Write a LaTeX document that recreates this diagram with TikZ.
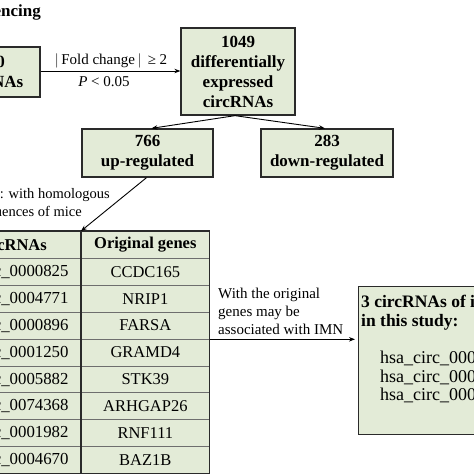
\documentclass[tikz,border=0pt]{standalone}
\usepackage{fontspec}
\setmainfont{Liberation Serif}
\usetikzlibrary{arrows.meta,calc}
\definecolor{boxfill}{HTML}{E3EBD7}
\definecolor{boxline}{HTML}{2A2A2A}
\definecolor{gridline}{HTML}{6E6E6E}
\begin{document}
\begin{tikzpicture}[x=1pt,y=-1pt,
  box/.style={draw=boxline, line width=1.3pt, fill=boxfill, inner sep=0pt, align=center,
    font=\bfseries\fontsize{17}{20}\selectfont},
  arr/.style={-{Stealth[length=6pt,width=4.5pt]}, line width=0.9pt, draw=black},
  lbl/.style={inner sep=0pt, font=\fontsize{15}{18}\selectfont},
  cell/.style={draw=gridline, line width=0.7pt, fill=boxfill, anchor=north west,
    minimum height=26.9pt, inner sep=0pt, font=\fontsize{16.5}{18}\selectfont},
  cella/.style={cell, minimum width=146pt},
  cellb/.style={cell, minimum width=128pt},
  celltext/.style={inner sep=0pt, anchor=east, font=\fontsize{16.8}{18}\selectfont}]
\useasboundingbox (0,0) rectangle (474,474);
\clip (0,0) rectangle (474,474);
\fill[white] (0,0) rectangle (474,474);

% title
\node[inner sep=0pt, anchor=east, font=\bfseries\fontsize{17}{18}\selectfont] (title) at (41,12) {RNA sequencing};

% left box
\node[box, minimum width=104pt, minimum height=50pt] (all) at (-12,72) {9820\\circRNAs};
% 1049 box
\node[box, minimum width=114pt, minimum height=87pt] (deg) at (238,71.5) {1049\\differentially\\expressed\\circRNAs};
\draw[arr] (all.east |- 0,71) -- (deg.west |- 0,71);
\node[lbl] (fc) at (111,61) {$\big|$\,Fold change\,$\big|$\, ≥ 2};
\node[lbl] (pv) at (104,82) {\textit{P} < 0.05};

% up / down
\node[box, minimum width=131pt, minimum height=48pt] (up) at (147.5,153) {766\\up-regulated};
\node[box, minimum width=132pt, minimum height=48pt] (down) at (327,153) {283\\down-regulated};
\draw[arr] ($(deg.south)+(-3,0)$) -- ($(up.north)+(4,0)$);
\draw[arr] ($(deg.south)+(-3,0)$) -- ($(down.north)+(-2,0)$);

% table
\node[cella] (h1) at (-65,231) {};
\node[inner sep=0pt, anchor=east, font=\bfseries\fontsize{16.5}{18}\selectfont] (h1t) at (47,244.5) {circRNAs};
\node[cellb, font=\bfseries\fontsize{16.5}{18}\selectfont] (h2) at (81,231) {Original genes};
\foreach \i/\id/\gene in
  {1/0000825/CCDC165, 2/0004771/NRIP1, 3/0000896/FARSA, 4/0001250/GRAMD4,
   5/0005882/STK39, 6/0074368/ARHGAP26, 7/0001982/RNF111, 8/0004670/BAZ1B}{
  \node[cella] (r\i a) at (-65,{231+26.9*\i}) {};
  \node[celltext] (t\i a) at ($(r\i a.east)+(-13,0)$) {hsa\_circ\_\id};
  \node[cellb] (r\i b) at (81,{231+26.9*\i}) {\gene};
}
\draw[boxline, line width=1.3pt] (h1.north west) rectangle (r8b.south east);
\draw[boxline, line width=1.3pt] (h2.north west) -- (r8b.south west);

\draw[arr] ($(up.south)+(-1,0)$) -- (h2.north west);
\node[lbl, anchor=base east, font=\fontsize{14.5}{18}\selectfont] (blast1) at (110,198) {Blast: with homologous};
\node[lbl, anchor=base east, font=\fontsize{14.5}{18}\selectfont] (blast2) at (82,216) {sequences of mice};

% final box
\node[box, anchor=north west, minimum width=180pt, minimum height=148pt] (fin) at (358,286) {};
\draw[arr, shorten >=3pt] (r3b.south east) -- (r3b.south east -| fin.west);
\node[lbl, anchor=north west, align=left] (assoc) at (218,288) {With the original\\genes may be\\associated with IMN};
\node[inner sep=0pt, anchor=north west, align=left, font=\bfseries\fontsize{17.5}{19}\selectfont] (fintitle) at (361,295) {3 circRNAs of interest\\in this study:};
\node[inner sep=0pt, anchor=north west, align=left, font=\fontsize{18}{18.5}\selectfont] (finlist) at (380,351) {hsa\_circ\_0000825\\hsa\_circ\_0004771\\hsa\_circ\_0001250};
\end{tikzpicture}
\end{document}
